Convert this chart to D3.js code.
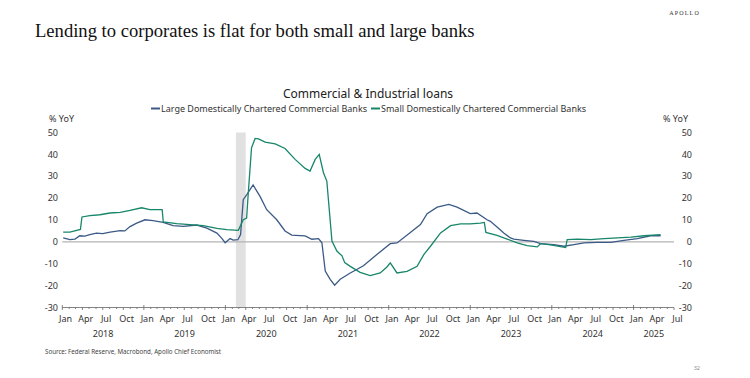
<!DOCTYPE html>
<html>
<head>
<meta charset="utf-8">
<script src="https://cdn.jsdelivr.net/npm/d3@7"></script>
<style>
  body { margin: 0; background: #fff; }
  svg { display: block; }
</style>
</head>
<body>
<div id="chart"></div>
<script>
// Year-over-year growth in C&I loans, %
const largeBanks = [
  ["2018-01-05", 1.8], ["2018-02-04", 1.0], ["2018-02-27", 1.3], ["2018-03-20", 2.8],
  ["2018-04-12", 2.6], ["2018-05-04", 3.3], ["2018-06-03", 4.0], ["2018-07-01", 3.8],
  ["2018-08-03", 4.5], ["2018-09-17", 5.1], ["2018-10-08", 5.0], ["2018-10-31", 7.0],
  ["2018-11-30", 8.6], ["2019-01-06", 10.1], ["2019-02-11", 9.7], ["2019-03-28", 8.9],
  ["2019-05-12", 7.4], ["2019-06-26", 7.1], ["2019-08-26", 7.7], ["2019-10-10", 6.3],
  ["2019-11-24", 4.0], ["2019-12-17", 1.5], ["2019-12-31", -0.4], ["2020-01-22", 1.5],
  ["2020-02-05", 0.8], ["2020-02-26", 1.0], ["2020-03-09", 3.3], ["2020-03-21", 19.3],
  ["2020-04-05", 21.5], ["2020-05-04", 26.0], ["2020-06-04", 20.8], ["2020-07-04", 14.7],
  ["2020-08-18", 10.1], ["2020-09-24", 5.0], ["2020-10-24", 3.1], ["2020-11-30", 2.9],
  ["2020-12-23", 2.7], ["2021-01-22", 1.2], ["2021-02-21", 1.5], ["2021-03-08", -0.4],
  ["2021-03-23", -13.3], ["2021-04-14", -17.1], ["2021-05-04", -19.8], ["2021-05-29", -17.1],
  ["2021-07-13", -14.2], ["2021-09-10", -10.9], ["2021-11-09", -5.8], ["2022-01-08", -0.8],
  ["2022-02-07", -0.5], ["2022-04-08", 4.3], ["2022-05-23", 7.9], ["2022-06-22", 12.9],
  ["2022-08-06", 15.9], ["2022-09-27", 17.1], ["2022-11-03", 15.9], ["2023-01-01", 12.9],
  ["2023-01-31", 13.2], ["2023-03-17", 10.1], ["2023-04-01", 9.4], ["2023-05-01", 6.8],
  ["2023-05-31", 4.1], ["2023-06-30", 1.8], ["2023-07-15", 1.3], ["2023-08-29", 0.7],
  ["2023-10-13", 0.2], ["2023-11-12", -0.8], ["2024-01-10", -1.3], ["2024-02-24", -2.0],
  ["2024-04-09", -1.3], ["2024-05-24", -0.5], ["2024-07-23", -0.2], ["2024-09-21", -0.2],
  ["2024-11-19", 0.7], ["2025-01-18", 1.5], ["2025-03-18", 2.8], ["2025-05-02", 2.8]
];

const smallBanks = [
  ["2018-01-05", 4.5], ["2018-02-04", 4.5], ["2018-03-23", 5.7], ["2018-03-30", 11.4],
  ["2018-05-04", 12.0], ["2018-06-18", 12.4], ["2018-08-03", 13.2], ["2018-09-17", 13.5],
  ["2018-10-31", 14.4], ["2018-12-22", 15.6], ["2019-01-28", 14.7], ["2019-03-24", 14.7],
  ["2019-03-29", 9.1], ["2019-05-28", 8.3], ["2019-07-26", 7.9], ["2019-09-24", 7.4],
  ["2019-11-24", 6.2], ["2020-01-07", 5.6], ["2020-02-28", 5.3], ["2020-03-21", 10.1],
  ["2020-04-05", 10.9], ["2020-04-12", 21.7], ["2020-04-27", 43.0], ["2020-05-13", 47.3],
  ["2020-05-28", 47.1], ["2020-06-27", 45.6], ["2020-08-11", 44.8], ["2020-09-24", 42.7],
  ["2020-11-08", 37.7], ["2020-12-23", 33.6], ["2021-01-14", 32.4], ["2021-02-06", 37.7],
  ["2021-02-24", 40.0], ["2021-03-15", 31.6], ["2021-03-30", 27.8], ["2021-04-22", 0.4],
  ["2021-05-14", -4.2], ["2021-06-06", -6.4], ["2021-06-18", -9.5], ["2021-07-13", -11.2],
  ["2021-08-26", -13.9], ["2021-10-10", -15.4], ["2021-11-24", -14.2], ["2021-12-24", -11.5],
  ["2022-01-08", -9.6], ["2022-02-07", -14.2], ["2022-03-24", -13.5], ["2022-05-08", -11.2],
  ["2022-06-07", -5.8], ["2022-07-07", -2.0], ["2022-08-21", 4.1], ["2022-10-05", 7.4],
  ["2022-11-19", 8.2], ["2023-01-01", 8.2], ["2023-02-15", 8.6], ["2023-03-05", 8.9],
  ["2023-03-12", 4.3], ["2023-05-01", 3.0], ["2023-05-31", 1.8], ["2023-06-15", 1.3],
  ["2023-07-30", -0.5], ["2023-09-13", -1.7], ["2023-10-28", -2.3], ["2023-11-12", -0.8],
  ["2023-12-26", -1.4], ["2024-03-03", -2.6], ["2024-03-10", 1.0], ["2024-04-24", 1.3],
  ["2024-06-23", 1.0], ["2024-08-22", 1.5], ["2024-10-21", 1.8], ["2024-12-20", 2.2],
  ["2025-02-17", 2.8], ["2025-05-02", 3.3]
];

const recession = ["2020-02-17", "2020-04-01"];
const yTicks = [50, 40, 30, 20, 10, 0, -10, -20, -30];
const monthLabels = ["Jan", "Apr", "Jul", "Oct"];
const years = [2018, 2019, 2020, 2021, 2022, 2023, 2024, 2025];
const seriesNames = ["Large Domestically Chartered Commercial Banks", "Small Domestically Chartered Commercial Banks"];

const blue = "#3c5a86";
const green = "#17866a";
const sans = "'Noto Sans', 'Open Sans', sans-serif";

const parse = d3.timeParse("%Y-%m-%d");
const W = 750, H = 378;

const svg = d3.select("#chart").append("svg")
    .attr("width", W)
    .attr("height", H);

// Scales
const x = d3.scaleTime()
    .domain([new Date(2018, 0, 1), new Date(2025, 6, 1)])
    .range([62.3, 674]);
const y = d3.scaleLinear()
    .domain([-30, 50])
    .range([307.5, 132.5]);

// Header
svg.append("text")
    .attr("x", 35).attr("y", 37)
    .attr("font-family", "'Liberation Serif', 'DejaVu Serif', serif")
    .attr("font-size", 18.6)
    .attr("fill", "#111")
    .text("Lending to corporates is flat for both small and large banks");

svg.append("text")
    .attr("x", 700).attr("y", 15)
    .attr("text-anchor", "end")
    .attr("font-family", "'Liberation Serif', serif")
    .attr("font-size", 6)
    .attr("letter-spacing", 1.2)
    .attr("fill", "#333")
    .text("APOLLO");

// Chart title and legend
svg.append("text")
    .attr("x", 368).attr("y", 98)
    .attr("text-anchor", "middle")
    .attr("font-family", sans)
    .attr("font-size", 12)
    .attr("fill", "#222")
    .text("Commercial & Industrial loans");

const legend = svg.append("g").attr("font-family", sans).attr("font-size", 9).attr("fill", "#333");
const legendX = [151, 371];
[blue, green].forEach((c, i) => {
  legend.append("line")
      .attr("x1", legendX[i]).attr("x2", legendX[i] + 9)
      .attr("y1", 108.5).attr("y2", 108.5)
      .attr("stroke", c).attr("stroke-width", 2);
  legend.append("text")
      .attr("x", legendX[i] + 10).attr("y", 112)
      .text(seriesNames[i]);
});

// Recession shading
svg.append("rect")
    .attr("x", x(parse(recession[0])))
    .attr("width", x(parse(recession[1])) - x(parse(recession[0])))
    .attr("y", y(50))
    .attr("height", y(-30) - y(50))
    .attr("fill", "#e1e1e1");

// Y axis labels on both sides
const yAxisText = svg.append("g").attr("font-family", sans).attr("font-size", 9).attr("fill", "#333");
yAxisText.selectAll(".yl").data(yTicks).join("text")
    .attr("x", 58).attr("y", d => y(d) + 3.2)
    .attr("text-anchor", "end")
    .text(d => d);
yAxisText.selectAll(".yr").data(yTicks).join("text")
    .attr("x", 692).attr("y", d => y(d) + 3.2)
    .attr("text-anchor", "end")
    .text(d => d);
yAxisText.append("text").attr("x", 49).attr("y", 122).text("% YoY");
yAxisText.append("text").attr("x", 688).attr("y", 122).attr("text-anchor", "end").text("% YoY");

// Zero line
svg.append("line")
    .attr("x1", x.range()[0]).attr("x2", x.range()[1])
    .attr("y1", y(0)).attr("y2", y(0))
    .attr("stroke", "#b3b3b3").attr("stroke-width", 1.2);

// Bottom axis with month ticks
const axisY = y(-30);
const axis = svg.append("g");
axis.append("line")
    .attr("x1", x.range()[0]).attr("x2", x.range()[1])
    .attr("y1", axisY).attr("y2", axisY)
    .attr("stroke", "#666").attr("stroke-width", 0.8);
const months = d3.timeMonth.range(x.domain()[0], d3.timeDay.offset(x.domain()[1], 1));
axis.selectAll(".mt").data(months).join("line")
    .attr("x1", d => x(d)).attr("x2", d => x(d))
    .attr("y1", d => d.getMonth() === 0 ? axisY - 2.5 : axisY)
    .attr("y2", d => d.getMonth() % 3 === 0 ? axisY + 2.5 : axisY + 1.5)
    .attr("stroke", "#666").attr("stroke-width", 0.8);

const quarters = months.filter(d => d.getMonth() % 3 === 0);
axis.selectAll(".ml").data(quarters).join("text")
    .attr("x", d => x(d3.timeDay.offset(d, 15)))
    .attr("y", 321.5)
    .attr("text-anchor", "middle")
    .attr("font-family", sans).attr("font-size", 9).attr("fill", "#333")
    .text(d => monthLabels[d.getMonth() / 3]);

axis.selectAll(".yrl").data(years).join("text")
    .attr("x", d => {
      const a = d3.max([new Date(d, 0, 1), x.domain()[0]]);
      const b = d3.min([new Date(d + 1, 0, 1), x.domain()[1]]);
      return (x(a) + x(b)) / 2;
    })
    .attr("y", 337)
    .attr("text-anchor", "middle")
    .attr("font-family", sans).attr("font-size", 9).attr("fill", "#333")
    .text(d => d);

// Lines
const line = d3.line()
    .x(d => x(parse(d[0])))
    .y(d => y(d[1]));

svg.append("path")
    .datum(largeBanks)
    .attr("d", line)
    .attr("fill", "none")
    .attr("stroke", blue)
    .attr("stroke-width", 1.3);

svg.append("path")
    .datum(smallBanks)
    .attr("d", line)
    .attr("fill", "none")
    .attr("stroke", green)
    .attr("stroke-width", 1.3);

// Footer
svg.append("text")
    .attr("x", 45).attr("y", 354)
    .attr("font-family", sans).attr("font-size", 6.2)
    .attr("fill", "#444")
    .text("Source: Federal Reserve, Macrobond, Apollo Chief Economist");

svg.append("text")
    .attr("x", 700).attr("y", 370)
    .attr("text-anchor", "end")
    .attr("font-family", sans).attr("font-size", 5.5)
    .attr("fill", "#888")
    .text("32");
</script>
</body>
</html>
